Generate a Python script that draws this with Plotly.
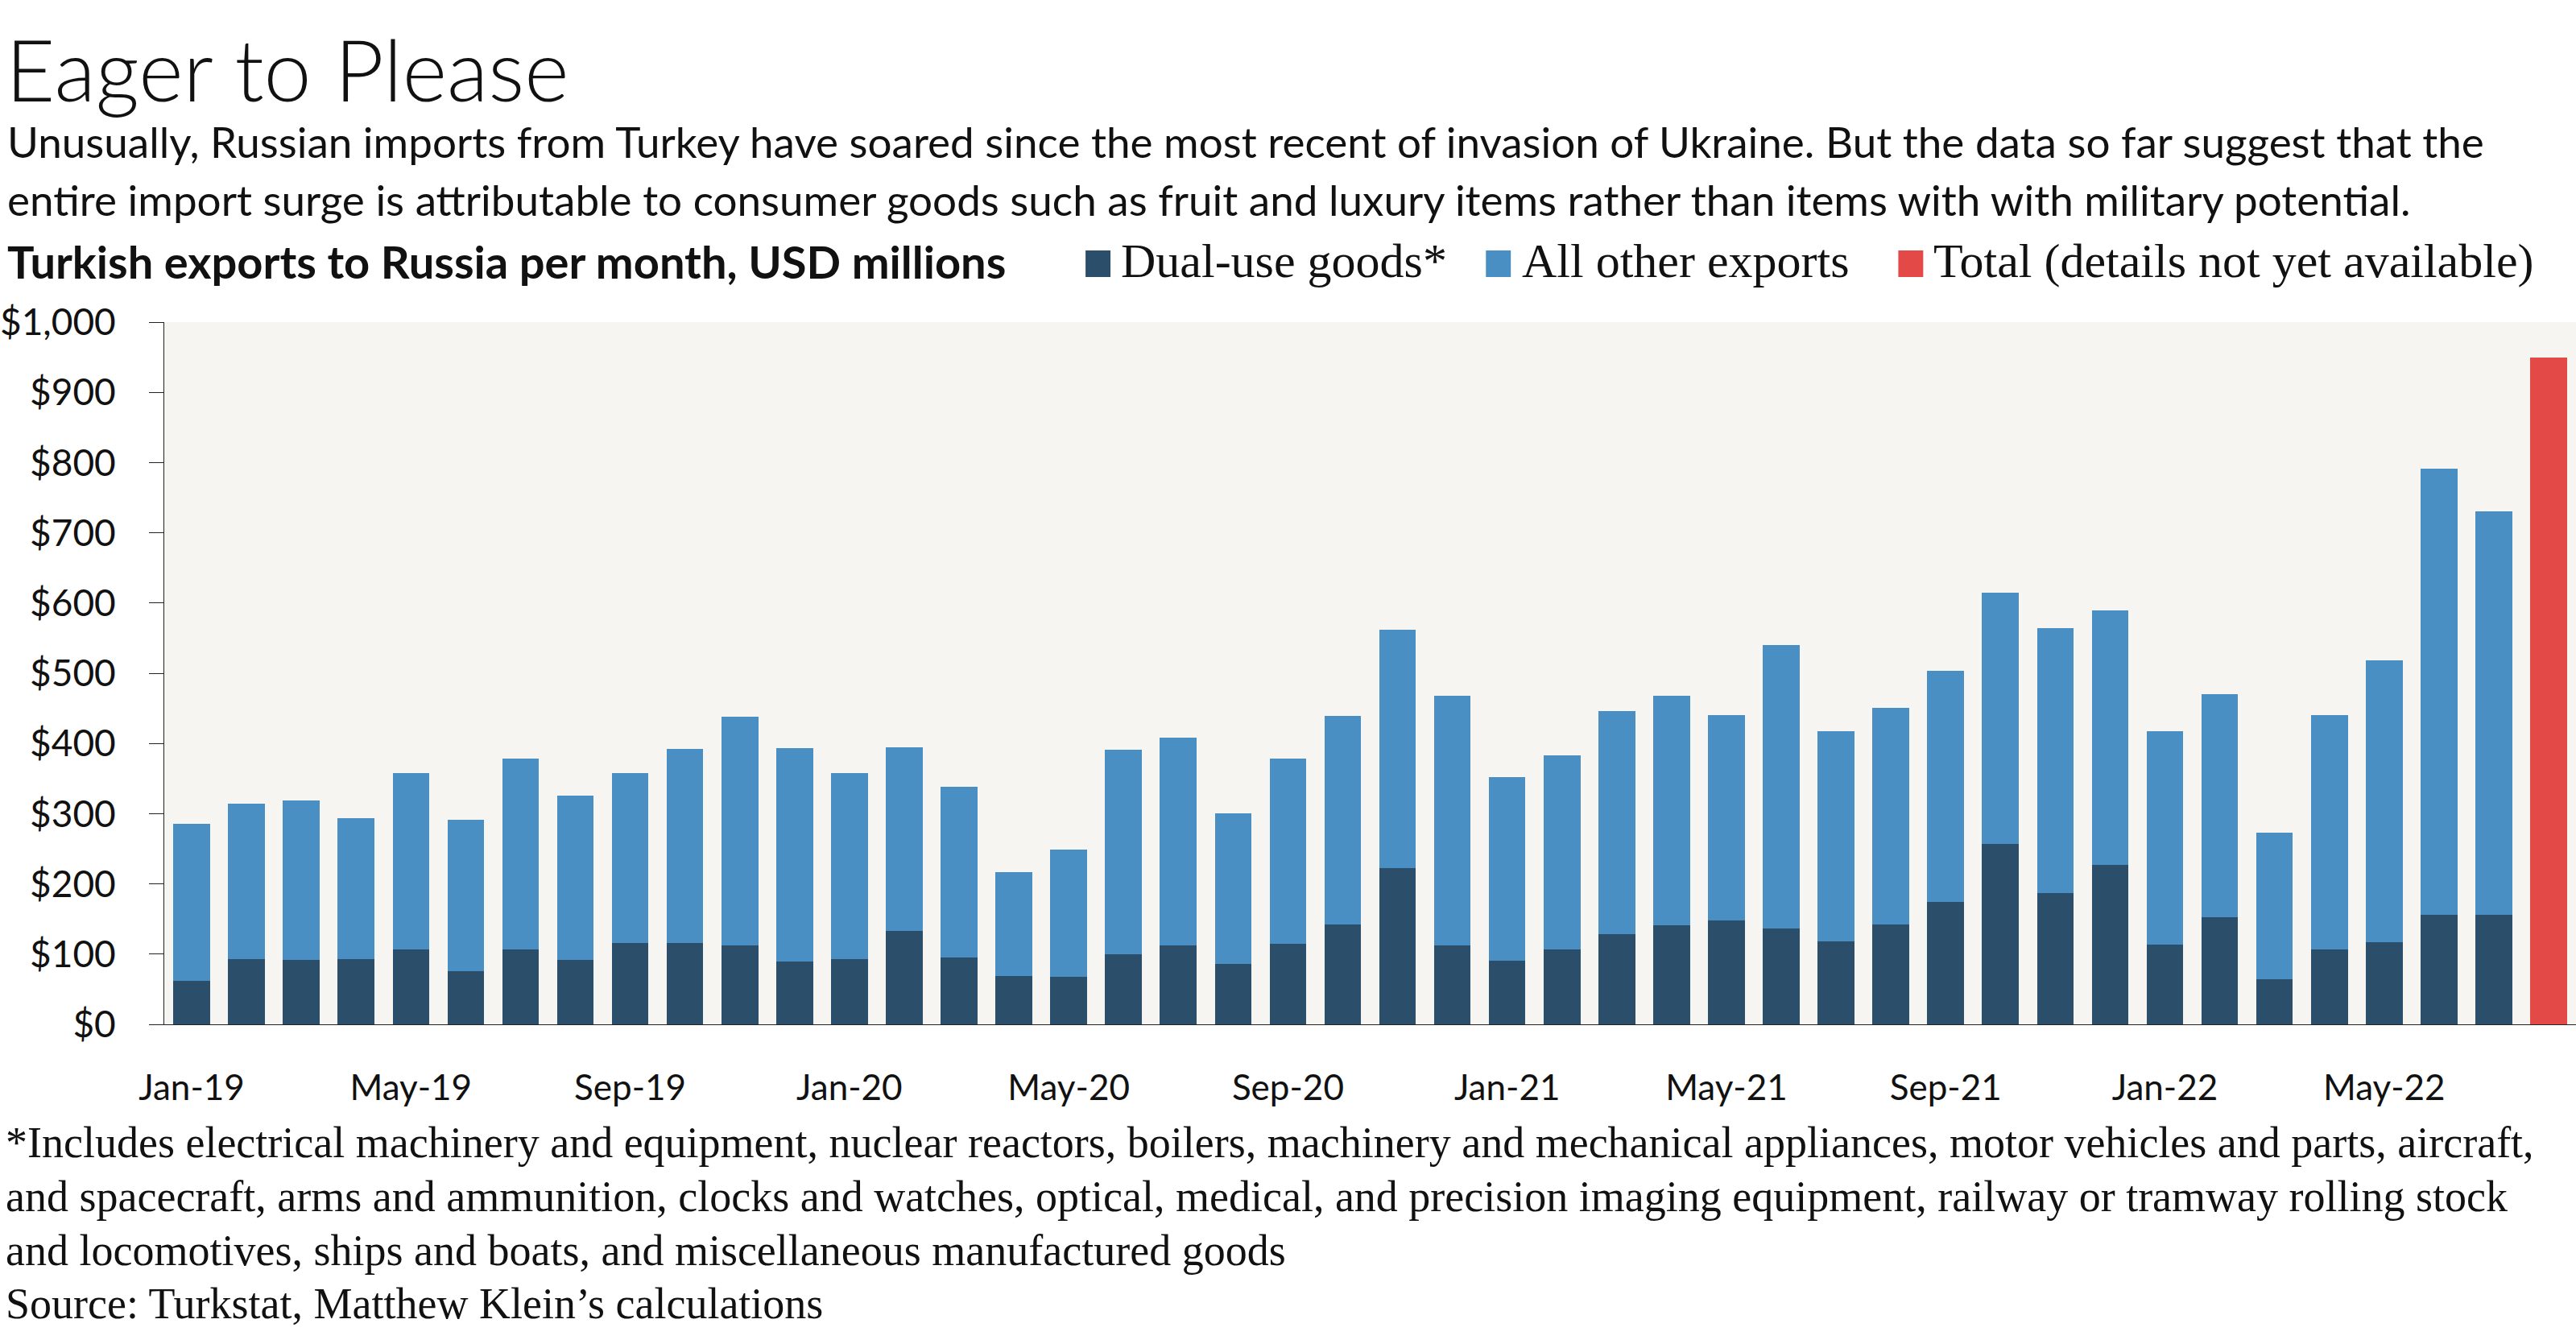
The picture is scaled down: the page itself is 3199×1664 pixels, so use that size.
import plotly.graph_objects as go

# ---------------- data ----------------
months = [
    "Jan-19", "Feb-19", "Mar-19", "Apr-19", "May-19", "Jun-19", "Jul-19", "Aug-19", "Sep-19", "Oct-19", "Nov-19", "Dec-19",
    "Jan-20", "Feb-20", "Mar-20", "Apr-20", "May-20", "Jun-20", "Jul-20", "Aug-20", "Sep-20", "Oct-20", "Nov-20", "Dec-20",
    "Jan-21", "Feb-21", "Mar-21", "Apr-21", "May-21", "Jun-21", "Jul-21", "Aug-21", "Sep-21", "Oct-21", "Nov-21", "Dec-21",
    "Jan-22", "Feb-22", "Mar-22", "Apr-22", "May-22", "Jun-22", "Jul-22", "Aug-22",
]
dual_use = [
    62, 93, 92, 93, 107, 76, 107, 92, 116, 116, 112, 89,
    93, 133, 95, 69, 68, 100, 112, 86, 115, 142, 223, 112,
    91, 107, 129, 141, 148, 136, 118, 142, 174, 257, 187, 227,
    114, 153, 64, 107, 117, 156, 156, None,
]
all_other = [
    223, 221, 227, 201, 251, 215, 271, 234, 242, 276, 326, 304,
    265, 261, 243, 148, 181, 291, 296, 214, 264, 297, 339, 356,
    261, 276, 317, 327, 292, 404, 299, 309, 330, 358, 377, 363,
    304, 317, 209, 333, 401, 635, 574, None,
]
total_months = ["Aug-22"]
total_values = [949]

tick_months = ["Jan-19", "May-19", "Sep-19", "Jan-20", "May-20", "Sep-20",
               "Jan-21", "May-21", "Sep-21", "Jan-22", "May-22"]
y_ticks = [0, 100, 200, 300, 400, 500, 600, 700, 800, 900, 1000]
y_tick_labels = ["$0", "$100", "$200", "$300", "$400", "$500",
                 "$600", "$700", "$800", "$900", "$1,000"]

title = "Eager to Please"
subtitle_lines = [
    "Unusually, Russian imports from Turkey have soared since the most recent of invasion of Ukraine. But the data so far suggest that the",
    "entire import surge is attributable to consumer goods such as fruit and luxury items rather than items with with military potential.",
]
chart_label = "Turkish exports to Russia per month, USD millions"
legend_names = ["Dual-use goods*", "All other exports", "Total (details not yet available)"]
footnote_lines = [
    "*Includes electrical machinery and equipment, nuclear reactors, boilers, machinery and mechanical appliances, motor vehicles and parts, aircraft,",
    "and spacecraft, arms and ammunition, clocks and watches, optical, medical, and precision imaging equipment, railway or tramway rolling stock",
    "and locomotives, ships and boats, and miscellaneous manufactured goods",
    "Source: Turkstat, Matthew Klein\u2019s calculations",
]

# ---------------- style ----------------
DARK = "#2B4F6A"
BLUE = "#4A8FC4"
RED = "#E34A47"
PLOT_BG = "#F6F5F1"
AXIS = "#222222"
SANS = "Lato"
SERIF = "Liberation Serif"

W, H = 3199, 1664
L, R, T, B = 199, 3199, 400, 1272


def xp(px):
    return (px - L) / (R - L)


def yp(py):
    return (B - py) / (B - T)


fig = go.Figure()
fig.add_trace(go.Bar(x=months, y=dual_use, name=legend_names[0], marker_color=DARK,
                     marker_line_width=0, showlegend=False))
fig.add_trace(go.Bar(x=months, y=all_other, name=legend_names[1], marker_color=BLUE,
                     marker_line_width=0, showlegend=False))
fig.add_trace(go.Bar(x=total_months, y=total_values, name=legend_names[2], marker_color=RED,
                     marker_line_width=0, showlegend=False))

annotations = []


def text(px, baseline, s, size, family, color="#111111", weight=None):
    font = dict(size=size, family=family, color=color)
    if weight is not None:
        font["weight"] = weight
    annotations.append(dict(
        x=xp(px), y=yp(baseline - 0.33 * size), xref="paper", yref="paper",
        xanchor="left", yanchor="middle", showarrow=False, text=s, font=font,
    ))


text(0, 120, title, 106, SANS, weight=300)
text(2, 193, subtitle_lines[0], 53, SANS)
text(2, 265, subtitle_lines[1], 53, SANS)
text(2, 343, "<b>" + chart_label + "</b>", 56, SANS)

legend_sq = [(1345, DARK), (1843, BLUE), (2356, RED)]
legend_tx = [1391, 1890, 2402]
shapes = []
for (sx, col), tx, name in zip(legend_sq, legend_tx, legend_names):
    shapes.append(dict(type="rect", xref="paper", yref="paper",
                       x0=xp(sx), x1=xp(sx + 31), y0=yp(344), y1=yp(311),
                       fillcolor=col, line_width=0))
    text(tx - 4, 344, name, 60, SERIF)

for i, line in enumerate(footnote_lines):
    text(0, 1437 + i * 66.7, line, 54, SERIF)

fig.update_layout(
    width=W, height=H,
    margin=dict(l=L, r=W - R, t=T, b=H - B, pad=0),
    paper_bgcolor="white",
    plot_bgcolor=PLOT_BG,
    barmode="stack",
    bargap=0.33,
    showlegend=False,
    annotations=annotations,
    shapes=shapes,
    font=dict(family=SANS, color="#111111"),
    xaxis=dict(
        type="category", categoryorder="array", categoryarray=months,
        range=[-0.5, len(months) - 0.5],
        tickmode="array", tickvals=tick_months, ticktext=tick_months,
        ticks="", showgrid=False, zeroline=False,
        showline=True, linecolor=AXIS, linewidth=1,
        tickfont=dict(size=44, family=SANS, color="#111111"),
        ticklabelstandoff=40,
    ),
    yaxis=dict(
        range=[0, 1000], tickmode="array", tickvals=y_ticks, ticktext=y_tick_labels,
        ticks="outside", ticklen=18, tickwidth=1, tickcolor=AXIS,
        showline=True, linecolor=AXIS, linewidth=1,
        showgrid=False, zeroline=False,
        tickfont=dict(size=46, family=SANS, color="#111111"),
        ticklabelstandoff=32,
    ),
)

fig.write_html("out.html")
